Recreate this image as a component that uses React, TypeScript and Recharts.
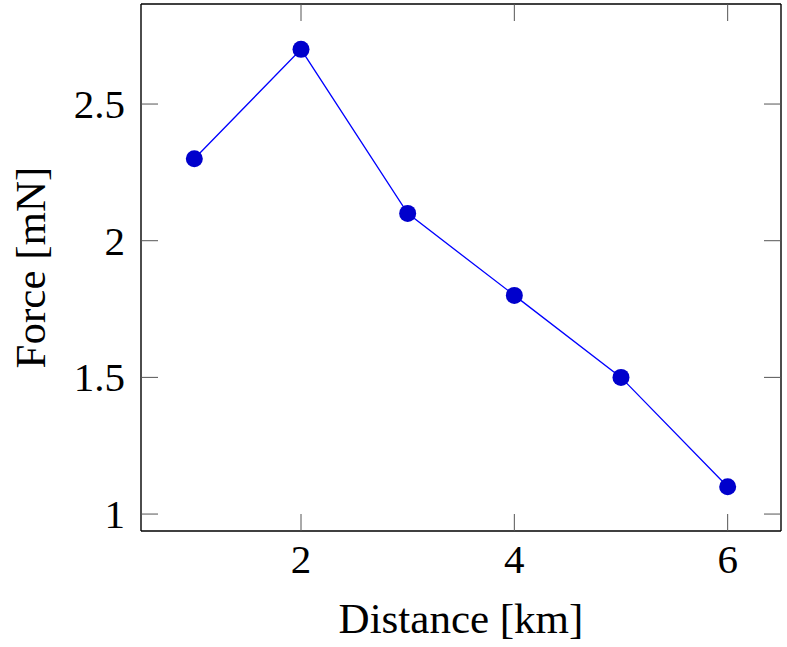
import React from 'react';
import { LineChart, Line, XAxis, YAxis, Label } from 'recharts';

const distances = [1, 2, 3, 4, 5, 6];
const forces = [2.3, 2.7, 2.1, 1.8, 1.5, 1.1];
const xTicks = [2, 4, 6];
const yTicks = [1, 1.5, 2, 2.5];

const data = distances.map((d, i) => ({ distance: d, force: forces[i] }));

const font = "'Liberation Serif', serif";
const TICK_LEN = 17;
const tickColor = '#555';
const frameStyle = { stroke: '#000', strokeWidth: 1.4 };
const textStyle = { fontSize: 41, fill: '#000', fontFamily: font };
const labelStyle = { fontSize: 43, fill: '#000', fontFamily: font };

// ticks drawn by hand so they point into the plot, like pgfplots
const LeftTick = (props: any) => {
  const { x, y, payload } = props;
  const ax = x; // tickSize and tickMargin are 0, so x is the axis line
  return (
    <g>
      <line x1={ax} y1={y} x2={ax + TICK_LEN} y2={y} stroke={tickColor} strokeWidth={1} />
      <text x={ax - 16} y={y} dy="0.34em" textAnchor="end" style={textStyle}>
        {String(payload.value)}
      </text>
    </g>
  );
};

const BottomTick = (props: any) => {
  const { x, y, payload } = props;
  return (
    <g>
      <line x1={x} y1={y} x2={x} y2={y - TICK_LEN} stroke={tickColor} strokeWidth={1} />
      <text x={x} y={y + 42} textAnchor="middle" style={textStyle}>
        {String(payload.value)}
      </text>
    </g>
  );
};

const TopTick = (props: any) => {
  const { x, y } = props;
  return <line x1={x} y1={y} x2={x} y2={y + TICK_LEN} stroke={tickColor} strokeWidth={1} />;
};

const RightTick = (props: any) => {
  const { x, y } = props;
  return <line x1={x} y1={y} x2={x - TICK_LEN} y2={y} stroke={tickColor} strokeWidth={1} />;
};

const App: React.FC = () => {
  return (
    <div style={{ position: 'absolute', left: 0, top: 0, background: '#fff', fontFamily: font }}>
      <LineChart width={787} height={647} data={data} margin={{ top: 0, right: 0, bottom: 0, left: 0 }}>
        <XAxis
          dataKey="distance"
          type="number"
          domain={[0.5, 6.5]}
          ticks={xTicks}
          allowDataOverflow
          height={116}
          tick={<BottomTick />}
          tickSize={0}
          tickMargin={0}
          tickLine={false}
          axisLine={frameStyle}
        >
          <Label value="Distance [km]" position="insideBottom" offset={14} style={labelStyle} />
        </XAxis>
        <XAxis
          xAxisId="top"
          orientation="top"
          dataKey="distance"
          type="number"
          domain={[0.5, 6.5]}
          ticks={xTicks}
          allowDataOverflow
          height={4}
          tick={<TopTick />}
          tickSize={0}
          tickMargin={0}
          tickLine={false}
          axisLine={frameStyle}
        />
        <YAxis
          type="number"
          domain={[0.938, 2.866]}
          ticks={yTicks}
          allowDataOverflow
          width={141}
          tick={<LeftTick />}
          tickSize={0}
          tickMargin={0}
          tickLine={false}
          axisLine={frameStyle}
        >
          <Label
            value="Force [mN]"
            angle={-90}
            position="insideLeft"
            offset={30}
            style={{ ...labelStyle, textAnchor: 'middle' }}
          />
        </YAxis>
        <YAxis
          yAxisId="right"
          orientation="right"
          type="number"
          domain={[0.938, 2.866]}
          ticks={yTicks}
          allowDataOverflow
          width={6}
          tick={<RightTick />}
          tickSize={0}
          tickMargin={0}
          tickLine={false}
          axisLine={frameStyle}
        />
        <Line
          dataKey="force"
          stroke="#0000ff"
          strokeWidth={1.3}
          dot={{ r: 8.5, fill: '#0000cc', stroke: 'none' }}
          activeDot={false}
          isAnimationActive={false}
        />
      </LineChart>
    </div>
  );
};

export default App;
